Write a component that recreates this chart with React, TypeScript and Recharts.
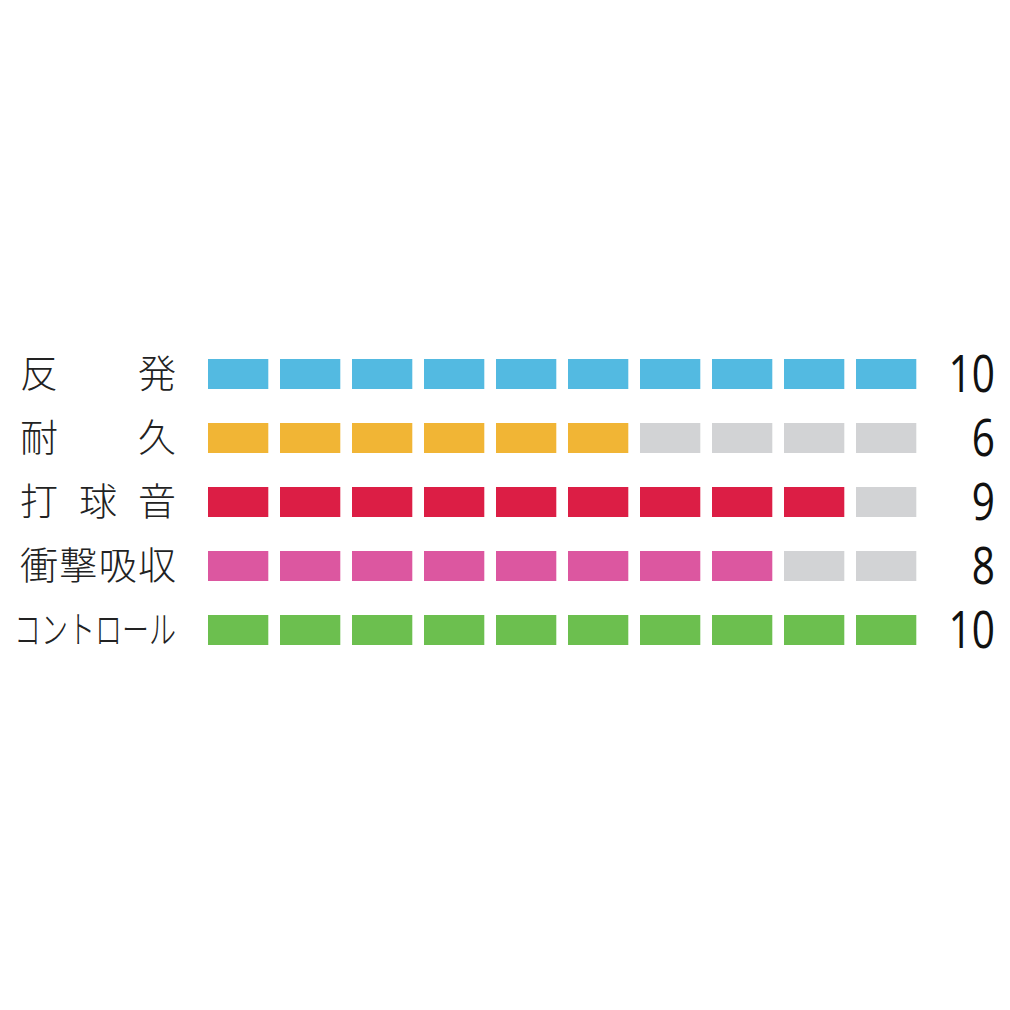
import React from 'react';
import { BarChart, Bar, XAxis, YAxis, Cell, LabelList } from 'recharts';

const labels = ['反発', '耐久', '打球音', '衝撃吸収', 'コントロール'];
const scores = [10, 6, 9, 8, 10];
const colors = ['#53bae1', '#f1b535', '#dc1e45', '#dc57a0', '#6cbf4f'];
const emptyColor = '#d2d3d5';
const maxScore = 10;

const segKeys = Array.from({ length: maxScore }, (_, i) => `s${i}`);

const data = labels.map((name, i) => {
  const row: Record<string, string | number> = { name, score: scores[i] };
  segKeys.forEach((k) => (row[k] = 1));
  return row;
});

const GAP = 11.7;

const Segment = (props: any) => {
  const { x, y, width, height, fill } = props;
  return <rect x={x} y={y} width={Math.max(0, width - GAP)} height={height} fill={fill} />;
};

const LabelTick = (props: any) => {
  const { y, payload } = props;
  const text: string = payload.value;
  const long = text.length > 4;
  return (
    <text
      x={long ? 14 : 20}
      y={y}
      dy={13}
      fontSize={38}
      fontWeight={300}
      fill="#222"
      fontFamily="'Noto Sans CJK JP', sans-serif"
      textLength={long ? 162 : 156}
      lengthAdjust={long ? 'spacingAndGlyphs' : 'spacing'}
    >
      {text}
    </text>
  );
};

const ScoreLabel = (props: any) => {
  const { y, height, index } = props;
  const cy = y + height / 2;
  return (
    <text
      transform={`translate(995, ${cy + 18}) scale(0.78, 1)`}
      textAnchor="end"
      fontSize={52}
      fill="#111"
      fontFamily="'Open Sans', sans-serif"
    >
      {scores[index]}
    </text>
  );
};

export default function App() {
  return (
    <div style={{ position: 'absolute', left: 0, top: 0, background: '#fff' }}>
      <BarChart
        width={1010}
        height={1010}
        data={data}
        layout="vertical"
        barSize={30}
        margin={{ top: 342, right: 82, bottom: 348, left: 0 }}
      >
        <XAxis type="number" domain={[0, maxScore]} hide />
        <YAxis
          type="category"
          dataKey="name"
          width={208}
          axisLine={false}
          tickLine={false}
          tick={<LabelTick />}
        />
        {segKeys.map((k, si) => (
          <Bar key={k} dataKey={k} stackId="a" isAnimationActive={false} shape={<Segment />}>
            {data.map((_, ri) => (
              <Cell key={`c-${ri}`} fill={si < scores[ri] ? colors[ri] : emptyColor} />
            ))}
            {si === maxScore - 1 && <LabelList dataKey="score" content={<ScoreLabel />} />}
          </Bar>
        ))}
      </BarChart>
    </div>
  );
}
